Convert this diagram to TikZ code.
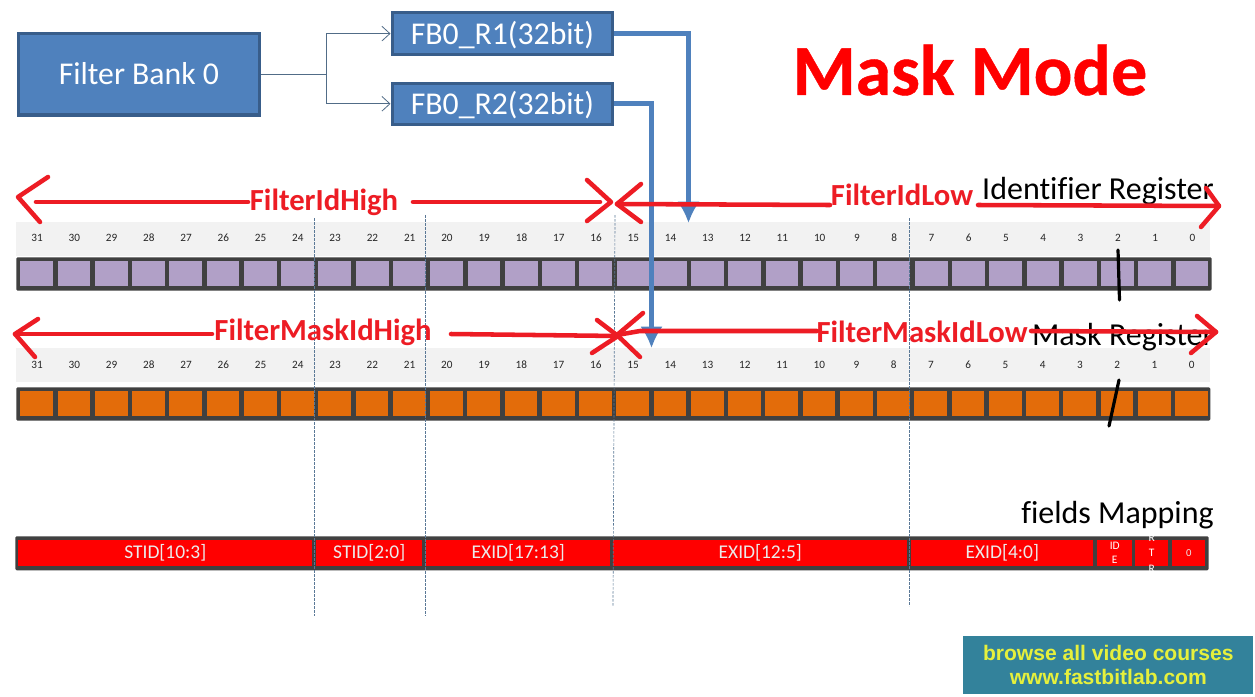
\documentclass[tikz,border=0pt]{standalone}
\usepackage{fontspec}
\usetikzlibrary{arrows.meta}
\setmainfont[Ligatures=NoCommon]{Carlito}
\newfontfamily\arialfont{Liberation Sans}
\newfontfamily\titlefont[FakeBold=0.6]{Carlito Bold}
\definecolor{boxblue}{HTML}{4F81BD}
\definecolor{boxedge}{HTML}{385D8A}
\definecolor{barline}{HTML}{404040}
\definecolor{cellpurple}{HTML}{B1A0C7}
\definecolor{cellorange}{HTML}{E36C0A}
\definecolor{handred}{HTML}{ED1C24}
\definecolor{bandgrey}{HTML}{F2F2F2}
\definecolor{bannerblue}{HTML}{33829B}
\definecolor{banneryellow}{HTML}{E6F03C}
\definecolor{divline}{HTML}{5A7896}
\tikzset{
 x=0.75pt,y=-0.75pt,
 fbbox/.style={draw=boxedge,line width=2.4pt,fill=boxblue,text=white,inner sep=0pt,anchor=north west,text height=19pt,text depth=3pt},
 band/.style={fill=bandgrey,draw=none,inner sep=0pt,anchor=north west},
 regbar/.style={fill=barline,draw=none,inner sep=0pt,anchor=north west,rounded corners=1pt},
 bitcell/.style={draw=none,inner sep=0pt,minimum width=24.6pt,minimum height=18.6pt,anchor=north west},
 bitnum/.style={font=\fontsize{8.4pt}{9pt}\selectfont,text=black!85,inner sep=0pt},
 fieldcell/.style={fill=red,draw=none,inner sep=0pt,anchor=north west,minimum height=19.5pt,text=white!92!black},
 redlabel/.style={text=handred,font=\fontsize{23pt}{26pt}\selectfont\bfseries,inner sep=0pt},
 blacklabel/.style={text=black,font=\fontsize{24pt}{27pt}\selectfont,inner sep=0pt,anchor=east},
 handline/.style={draw=handred,line width=3.4pt,line cap=round,line join=round},
 thin connector/.style={draw=divline!90!black,line width=0.6pt},
 blue feed/.style={draw=boxblue,line width=3.8pt},
 divider/.style={draw=divline,line width=0.5pt,dash pattern=on 2pt off 1pt},
 blackmark/.style={draw=black,line width=2.4pt,line cap=round},
}
\begin{document}
\begin{tikzpicture}
\useasboundingbox (0,0) rectangle (1255,696);
\fill[white] (0,0) rectangle (1255,696);

% register 1
\node[band,minimum width=895.5pt,minimum height=25.5pt] (band1) at (16,222) {};
\node[regbar,minimum width=896.5pt,minimum height=25pt] (bar1) at (16,257) {};
\foreach \i [evaluate=\i as \n using int(31-\i)] in {0,...,31}{
  \node[bitcell,fill=cellpurple] (ra\i) at ({20+37.27*\i},261) {};
  \node[bitnum] (na\i) at ({37+37.27*\i},238) {\n};
}
% register 2
\node[band,minimum width=895.5pt,minimum height=25.5pt] (band2) at (16,348) {};
\node[regbar,minimum width=895.5pt,minimum height=25pt] (bar2) at (16,387) {};
\foreach \i [evaluate=\i as \n using int(31-\i)] in {0,...,31}{
  \node[bitcell,fill=cellorange] (rb\i) at ({20+37.25*\i},391) {};
  \node[bitnum] (nb\i) at ({37+37.25*\i},365) {\n};
}
% fields
\node[regbar,minimum width=895pt,minimum height=25.5pt] (bar3) at (15,536) {};
\newcommand\fieldbox[5]{\node[fieldcell,minimum width=#3*0.75pt,font=\fontsize{#4}{#4}\selectfont,align=center] (#1) at (#2,540) {#5};}
\fieldbox{fa}{18}{294}{14.6pt}{STID[10:3]}
\fieldbox{fb}{316}{106}{14.6pt}{STID[2:0]}
\fieldbox{fc}{426}{184}{14.6pt}{EXID[17:13]}
\fieldbox{fd}{613}{294}{14.6pt}{EXID[12:5]}
\fieldbox{fe}{911}{182}{14.6pt}{EXID[4:0]}
\fieldbox{ff}{1097}{35}{8pt}{}
\fieldbox{fg}{1135}{33}{8pt}{}
\fieldbox{fh}{1172}{33}{8pt}{0}
\node[text=white,font=\fontsize{8.6pt}{10.5pt}\selectfont,align=center,inner sep=0pt] (idetxt) at (ff.center) {ID\\E};
\node[text=white,font=\fontsize{8.6pt}{11.3pt}\selectfont,align=center,inner sep=0pt] (rtrtxt) at (fg.center) {R\\T\\R};

% dividers
\coordinate (d1t) at (314.5,218); \coordinate (d1b) at (314.5,616);
\coordinate (d2t) at (425.5,215); \coordinate (d2b) at (425.5,616);
\coordinate (d3t) at (615,215);   \coordinate (d3b) at (613,606);
\coordinate (d4t) at (909.5,218); \coordinate (d4b) at (909.5,606);
\foreach \k in {1,2,3,4}{ \draw[divider] (d\k t) -- (d\k b); }

% top boxes
\node[fbbox,minimum width=180.5pt,minimum height=61pt,font=\fontsize{23.8pt}{26pt}\selectfont] (bank) at (17,32) {Filter Bank 0};
\node[fbbox,minimum width=165.5pt,minimum height=31.5pt,font=\fontsize{23.8pt}{26pt}\selectfont] (fbr1) at (390.5,11) {FB0\_R1(32bit)};
\node[fbbox,minimum width=165.5pt,minimum height=31pt,font=\fontsize{23.8pt}{26pt}\selectfont] (fbr2) at (390.5,81.5) {FB0\_R2(32bit)};
\coordinate (forkx) at (326,0);
\coordinate (fork) at (bank.east -| forkx);
\draw[thin connector] (bank.east) -- (fork);
\draw[thin connector,-{Straight Barb[length=6pt,width=11pt,line width=0.6pt]}] (fork) |- (fbr1.west);
\draw[thin connector,-{Straight Barb[length=6pt,width=11pt,line width=0.6pt]}] (fork) |- (fbr2.west);

% blue feeds
\coordinate (r1end) at (688.5,223);
\coordinate (r2end) at (651.5,348);
\draw[blue feed,-{Latex[length=16pt,width=17pt]}] (fbr1.east) -| (r1end);
\draw[blue feed,-{Latex[length=16pt,width=17pt]}] (fbr2.east) -| (r2end);

% title
\node[text=red,font=\titlefont\fontsize{54pt}{60pt}\selectfont,inner sep=0pt,draw=none] (title) at (970,70) {Mask Mode};

% black labels
\node[blacklabel] (idreg) at (1214,191) {Identifier Register};
\node[blacklabel] (maskreg) at (1214,337) {Mask Register};
\node[blacklabel] (fieldmap) at (1214,515) {fields Mapping};

% red labels
\node[redlabel] (lidh) at (324,202) {FilterIdHigh};
\node[redlabel] (lidl) at (902,195) {FilterIdLow};
\node[redlabel] (lmh) at (323,332) {FilterMaskIdHigh};
\node[redlabel] (lml) at (922,332) {FilterMaskIdLow};

% hand-drawn arrows
\coordinate (a1) at (18,197);  \coordinate (a2) at (611,202);
\draw[handline] (48,177) -- (a1) -- (40,222);
\draw[handline] (36,202) -- (248,202);
\draw[handline] (413,202) -- (600,202);
\draw[handline] (587,180) -- (a2) -- (587,221);
\coordinate (b1) at (617,204); \coordinate (b2) at (1219,206);
\draw[handline] (641,184) -- (b1) -- (641,222);
\draw[handline] (b1) -- (830,205);
\draw[handline] (978,205) -- (b2);
\draw[handline] (1206,188) -- (b2) -- (1201,227);
\coordinate (c1) at (15,334); \coordinate (c2) at (618,336);
\draw[handline] (38,319) -- (c1) -- (35,357);
\draw[handline] (c1) -- (212,334);
\draw[handline] (451,334) -- (c2);
\draw[handline] (597,320) -- (c2) -- (592,353);
\coordinate (e1) at (617,335); \coordinate (e2) at (1216,332);
\draw[handline] (643,313) -- (e1) -- (640,357);
\draw[handline] (e1) -- (640,331) -- (817,331);
\draw[handline] (1031,331) -- (e2);
\draw[handline] (1197,316) -- (e2) -- (1191,353);

% pen marks
\coordinate (m1a) at (1118,250); \coordinate (m1b) at (1119.5,300);
\coordinate (m2a) at (1119,380); \coordinate (m2b) at (1109,426);
\draw[blackmark] (m1a) -- (m1b);
\draw[blackmark] (m2a) -- (m2b);

% banner
\node[fill=bannerblue,draw=none,inner sep=0pt,minimum width=217.5pt,minimum height=43.5pt,anchor=north west,text=banneryellow,align=center,font=\arialfont\fontsize{15.8pt}{18pt}\selectfont\bfseries] (banner) at (963,636) {browse all video courses\\www.fastbitlab.com};
\end{tikzpicture}
\end{document}
